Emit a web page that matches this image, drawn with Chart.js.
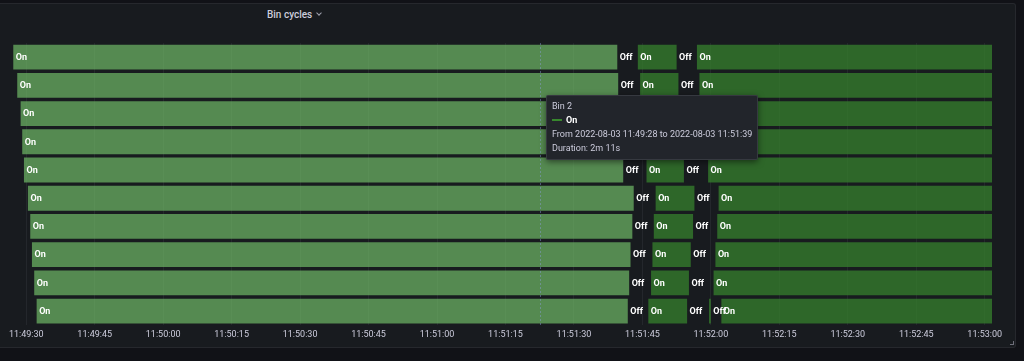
<!DOCTYPE html>
<html>
<head>
<meta charset="utf-8">
<script src="https://cdn.jsdelivr.net/npm/chart.js@4/dist/chart.umd.min.js"></script>
<style>
  html, body { margin: 0; padding: 0; }
  body { width: 1024px; height: 361px; background: #111217; overflow: hidden; position: relative; font-family: Roboto, "Noto Sans", sans-serif; }
  #panel { position: absolute; left: -3px; top: 3px; width: 1017px; height: 343px; background: #181b1f; border: 1px solid rgba(204,204,220,0.08); border-radius: 3px; }
  #title { position: absolute; left: 267px; top: 8px; color: #ccccdc; font: 500 10px Roboto, sans-serif; line-height: 14px; white-space: nowrap; }
  #title .chev { display: inline-block; width: 3px; height: 3px; border-right: 1px solid #9fa0ae; border-bottom: 1px solid #9fa0ae; transform: rotate(45deg); margin-left: 5px; position: relative; top: -3px; }
  #wrap { position: absolute; left: 0; top: 0; width: 1016px; height: 349px; }
  #tip { position: absolute; background: #22252b; border: 1px solid rgba(204,204,220,0.12); border-radius: 2px; box-shadow: 0 2px 6px rgba(0,0,0,0.5); color: #ccccdc; font: 400 9px Roboto, sans-serif; padding: 3px 5px 4px 5px; white-space: nowrap; }
  #tip div { height: 14px; line-height: 14px; }
  #tip .state { color: #fff; font-weight: 700; }
  #tip .dash { display: inline-block; width: 10px; height: 2px; background: #37872d; vertical-align: middle; margin-right: 4px; position: relative; top: -1px; }
  #grip { position: absolute; left: 1010px; top: 341px; width: 3px; height: 3px; border-right: 1px solid #6e6f7a; border-bottom: 1px solid #6e6f7a; }
</style>
</head>
<body>
<div id="panel"></div>
<div id="title">Bin cycles<span class="chev"></span></div>
<div id="wrap"><canvas id="stateChart"></canvas></div>
<div id="tip"></div>
<div id="grip"></div>
<script>
// seconds after 2022-08-03 11:49:30
const bins = ["Bin 1", "Bin 2", "Bin 3", "Bin 4", "Bin 5", "Bin 6", "Bin 7", "Bin 8", "Bin 9", "Bin 10"];
const firstOn = [-2.84, -1.97, -1.23, -0.88, -0.5, 0.37, 0.88, 1.25, 1.75, 2.28];
const firstOff = [129.5, 129.7, 130.3, 130.5, 130.8, 133.1, 132.8, 132.4, 132.1, 131.8];
const secondOn = [134.0, 134.5, 134.9, 135.4, 135.9, 137.9, 137.5, 137.2, 136.9, 136.3];
const secondOff = [142.5, 142.9, 143.5, 143.7, 144.1, 146.4, 146.1, 145.6, 145.2, 144.8];
const thirdOn = [146.95, 147.5, 148.0, 148.7, 149.4, 151.7, 151.4, 151.0, 150.6, 149.6];
const thirdOff = [null, null, null, null, null, null, null, null, null, 150.0];
const fourthOn = [null, null, null, null, null, null, null, null, null, 152.3];
const lastSample = 211.6;
const tickLabels = ["11:49:30", "11:49:45", "11:50:00", "11:50:15", "11:50:30", "11:50:45", "11:51:00",
  "11:51:15", "11:51:30", "11:51:45", "11:52:00", "11:52:15", "11:52:30", "11:52:45", "11:53:00"];
const rangeFrom = -2.9;
const hoverAt = 112.6;
const hoverBin = 1;

const baseTime = new Date(2022, 7, 3, 11, 49, 30);
const pad = n => String(n).padStart(2, "0");
function clock(s) {
  const d = new Date(baseTime.getTime() + Math.floor(s) * 1000);
  return pad(d.getHours()) + ":" + pad(d.getMinutes()) + ":" + pad(d.getSeconds());
}
function stamp(s) {
  const d = new Date(baseTime.getTime() + s * 1000);
  return d.getFullYear() + "-" + pad(d.getMonth() + 1) + "-" + pad(d.getDate()) + " " +
    pad(d.getHours()) + ":" + pad(d.getMinutes()) + ":" + pad(d.getSeconds());
}
function toSeconds(label) {
  const p = label.split(":").map(Number);
  return (p[0] - 11) * 3600 + (p[1] - 49) * 60 + (p[2] - 30);
}
const tickValues = tickLabels.map(toSeconds);

const segments = [firstOn, firstOff, secondOn, secondOff, thirdOn, thirdOff, fourthOn];
const names = ["On", "Off", "On", "Off", "On", "Off", "On"];
const fills = ["rgba(115,191,105,0.68)", "transparent", "rgba(55,135,45,0.7)", "transparent",
  "rgba(55,135,45,0.7)", "transparent", "rgba(55,135,45,0.7)"];

function segmentEnd(k, i) {
  for (let j = k + 1; j < segments.length; j++) {
    if (segments[j][i] != null) return segments[j][i];
  }
  return lastSample;
}

const datasets = segments.map((seg, k) => ({
  label: names[k],
  data: seg.map((s, i) => (s == null ? null : [s, segmentEnd(k, i)])),
  backgroundColor: fills[k],
  borderWidth: 0,
  grouped: false,
  barPercentage: 0.88,
  categoryPercentage: 1,
}));

const stateLabels = {
  id: "stateLabels",
  afterDatasetsDraw(chart) {
    const ctx = chart.ctx;
    ctx.save();
    ctx.font = "bold 9px Roboto, sans-serif";
    ctx.fillStyle = "#ffffff";
    ctx.textBaseline = "middle";
    chart.data.datasets.forEach((ds, di) => {
      chart.getDatasetMeta(di).data.forEach((el, i) => {
        if (!ds.data[i]) return;
        const p = el.getProps(["x", "base", "y"], true);
        const left = Math.min(p.x, p.base);
        if (Math.abs(p.x - p.base) < 4) return;
        ctx.fillText(ds.label, left + 2.5, p.y + 0.5);
      });
    });
    ctx.restore();
  },
};

const crosshair = {
  id: "crosshair",
  afterDraw(chart) {
    const ctx = chart.ctx;
    const a = chart.chartArea;
    const x = Math.round(chart.scales.x.getPixelForValue(hoverAt)) + 0.5;
    ctx.save();
    ctx.strokeStyle = "rgba(140,160,220,0.45)";
    ctx.lineWidth = 1;
    ctx.setLineDash([2, 2]);
    ctx.beginPath();
    ctx.moveTo(x, a.top);
    ctx.lineTo(x, a.bottom);
    ctx.stroke();
    ctx.restore();
  },
};

const chart = new Chart(document.getElementById("stateChart"), {
  type: "bar",
  data: { labels: bins, datasets: datasets },
  options: {
    indexAxis: "y",
    responsive: true,
    maintainAspectRatio: false,
    animation: false,
    layout: { padding: { left: 13, right: 24, top: 43, bottom: 5 } },
    plugins: {
      legend: { display: false },
      title: { display: false },
      tooltip: { enabled: false },
    },
    scales: {
      x: {
        type: "linear",
        min: rangeFrom,
        max: lastSample,
        afterBuildTicks: axis => { axis.ticks = tickValues.map(v => ({ value: v })); },
        grid: { color: "rgba(204,204,220,0.07)", drawTicks: false },
        border: { display: false },
        ticks: {
          autoSkip: false,
          maxRotation: 0,
          padding: 4,
          color: "#ccccdc",
          font: { family: "Roboto", size: 9 },
          callback: v => clock(v),
        },
      },
      y: { display: false },
    },
  },
  plugins: [stateLabels, crosshair],
});

// hover tooltip for Bin 2
const tip = document.getElementById("tip");
const from = firstOn[hoverBin], to = firstOff[hoverBin];
const dur = Math.floor(to - from);
tip.innerHTML =
  "<div>" + bins[hoverBin] + "</div>" +
  '<div><span class="dash"></span><span class="state">' + names[0] + "</span></div>" +
  "<div>From " + stamp(Math.floor(from)) + " to " + stamp(Math.floor(to)) + "</div>" +
  "<div>Duration: " + Math.floor(dur / 60) + "m " + (dur % 60) + "s</div>";
tip.style.left = Math.round(chart.scales.x.getPixelForValue(hoverAt)) + 6 + "px";
tip.style.top = "95px";
</script>
</body>
</html>
